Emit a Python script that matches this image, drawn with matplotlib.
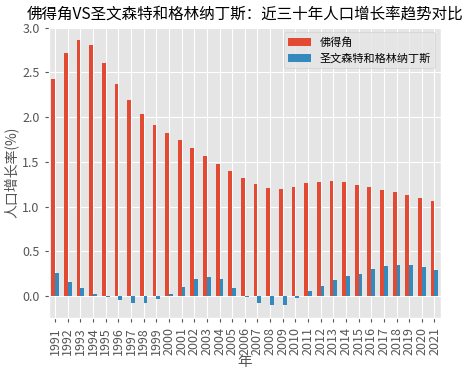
import numpy as np
import matplotlib
matplotlib.use("Agg")
import matplotlib.pyplot as plt

# --- datos ---
anios = list(range(1991, 2022))
cabo_verde = [2.42, 2.72, 2.86, 2.80, 2.60, 2.37, 2.19, 2.03, 1.91, 1.82,
              1.74, 1.65, 1.56, 1.48, 1.40, 1.32, 1.25, 1.21, 1.20, 1.22,
              1.26, 1.27, 1.28, 1.27, 1.24, 1.22, 1.19, 1.16, 1.13, 1.10, 1.06]
san_vicente = [0.26, 0.155, 0.09, 0.02, -0.01, -0.05, -0.078, -0.078, -0.036, 0.025,
               0.10, 0.19, 0.21, 0.186, 0.093, -0.015, -0.078, -0.10, -0.097, -0.026,
               0.052, 0.112, 0.178, 0.227, 0.249, 0.305, 0.331, 0.349, 0.349, 0.323, 0.294]
series = ["佛得角", "圣文森特和格林纳丁斯"]

plt.style.use("ggplot")
plt.rcParams["font.family"] = ["Noto Sans CJK SC", "DejaVu Sans"]
plt.rcParams["axes.unicode_minus"] = False

fig = plt.figure(figsize=(4.74, 3.73), dpi=100)
ax = fig.add_axes([0.103, 0.147, 0.827, 0.781])

x = np.arange(len(anios))
ancho = 0.3
ax.bar(x - ancho / 2, cabo_verde, width=ancho, color="#E24A33", label=series[0])
ax.bar(x + ancho / 2, san_vicente, width=ancho, color="#348ABD", label=series[1])

ax.set_xticks(x)
ax.set_xticklabels([str(a) for a in anios], rotation=90, fontsize=9)
ax.set_xlim(-0.5, len(anios) - 0.5)
ax.set_yticks([0, 0.5, 1.0, 1.5, 2.0, 2.5, 3.0])
ax.tick_params(axis="both", length=3)
ax.tick_params(axis="y", labelsize=9)

ax.set_title("佛得角VS圣文森特和格林纳丁斯：近三十年人口增长率趋势对比", fontsize=11.2, pad=5)
ax.set_xlabel("年", fontsize=10.5, labelpad=0)
ax.set_ylabel("人口增长率(%)", fontsize=10, labelpad=2)
ax.legend(loc="upper right", fontsize=8)

fig.savefig("out.png", dpi=100)
